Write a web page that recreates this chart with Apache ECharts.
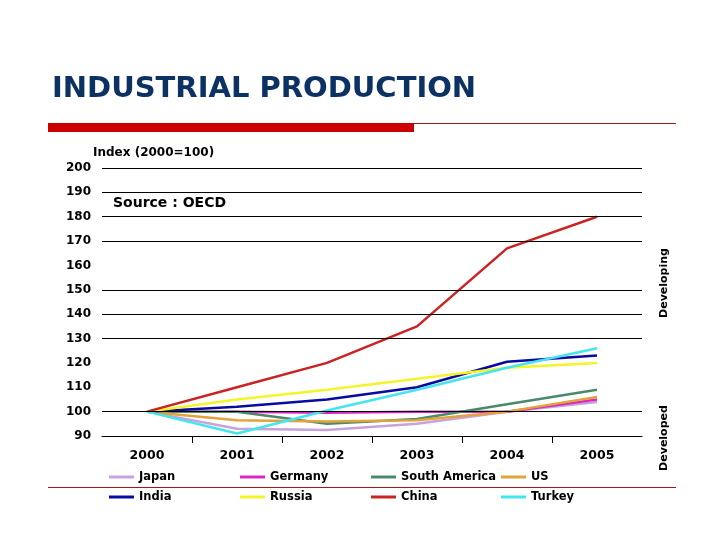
<!DOCTYPE html>
<html>
<head>
<meta charset="utf-8">
<script src="https://cdn.jsdelivr.net/npm/echarts@6/dist/echarts.min.js"></script>
<style>html,body{margin:0;padding:0;background:#fff}#c{width:720px;height:540px}</style>
</head>
<body>
<div id="c"></div>
<script>
var years = ['2000','2001','2002','2003','2004','2005'];
var japan = [100, 93, 92.5, 95, 100, 104];
var germany = [100, 100, 99.5, 100, 100, 105];
var southAmerica = [100, 100, 95, 97, 103, 109];
var us = [100, 96.5, 96, 96.5, 100, 106];
var india = [100, 102, 105, 110, 120.5, 123];
var russia = [100, 105, 109, 113.5, 118, 120];
var china = [100, 110, 120, 135, 167, 180];
var turkey = [100, 91, 100.5, 109, 118, 126];
var gridValues = [100, 130, 140, 150, 170, 180, 190, 200];
var innerTicks = ['', '', '', '', ''];

var names = ['Japan','Germany','South America','US','India','Russia','China','Turkey'];
var values = [japan, germany, southAmerica, us, india, russia, china, turkey];
var colors = ['#c8a2dc','#d926c4','#4a8a6c','#e0a43a','#0a0aa0','#f4f428','#cc2222','#44e4f0'];

var FONT = 'DejaVu Sans';
var series = names.map(function(n, i){
  return {
    name: n, type: 'line', data: values[i], symbol: 'none',
    lineStyle: {width: 2.5, color: colors[i]}, itemStyle: {color: colors[i]},
    z: 3
  };
});
series.unshift({
  name: '_grid', type: 'line', data: [], silent: true, z: 1,
  markLine: {
    silent: true, symbol: 'none', label: {show: false},
    lineStyle: {color: '#000', width: 1, type: 'solid'},
    emphasis: {disabled: true},
    animation: false,
    data: gridValues.map(function(v){ return {yAxis: v}; })
  }
});

var legendLeft = [109, 240, 371, 501];
var legends = names.map(function(n, i){
  return {
    data: [n], left: legendLeft[i % 4], top: (i < 4 ? 471 : 491),
    icon: 'rect', itemWidth: 25, itemHeight: 3, padding: 0,
    selectedMode: false,
    textStyle: {fontFamily: FONT, fontWeight: 'bold', fontSize: 11.5, color: '#000'}
  };
});

var chart = echarts.init(document.getElementById('c'), null, {renderer: 'canvas'});
chart.setOption({
  backgroundColor: '#fff',
  animation: false,
  color: colors,
  grid: [
    {left: 102, right: 78, top: 168, bottom: 104},
    {left: 192, right: 168, top: 168, bottom: 104}
  ],
  legend: legends,
  xAxis: [{
    type: 'category', data: years, boundaryGap: true, gridIndex: 0,
    axisLine: {show: true, lineStyle: {color: '#000', width: 1}},
    axisTick: {show: false},
    axisLabel: {fontFamily: FONT, fontWeight: 'bold', fontSize: 12.5, color: '#000', margin: 13}
  }, {
    type: 'category', data: innerTicks, boundaryGap: false, gridIndex: 1,
    axisLine: {show: false},
    axisTick: {show: true, length: 7, lineStyle: {color: '#000'}},
    axisLabel: {show: false}
  }],
  yAxis: [{
    type: 'value', min: 90, max: 200, interval: 10, gridIndex: 0,
    axisLine: {show: false}, axisTick: {show: false},
    splitLine: {show: false},
    axisLabel: {fontFamily: FONT, fontWeight: 'bold', fontSize: 12, color: '#000', margin: 11}
  }, {
    type: 'value', min: 90, max: 200, gridIndex: 1, show: false
  }],
  series: series,
  graphic: [
    {type: 'text', left: 52, top: 75, style: {text: 'INDUSTRIAL PRODUCTION', font: 'bold 29px "DejaVu Sans"', fill: '#0b3263'}},
    {type: 'rect', shape: {x: 48, y: 123, width: 366, height: 9}, style: {fill: '#cc0000'}},
    {type: 'line', shape: {x1: 414, y1: 123.5, x2: 676, y2: 123.5}, style: {stroke: '#a01818', lineWidth: 1}},
    {type: 'line', shape: {x1: 48, y1: 487.5, x2: 676, y2: 487.5}, style: {stroke: '#a01818', lineWidth: 1}},
    {type: 'text', x: 93, y: 153, style: {text: 'Index (2000=100)', font: 'bold 12px "DejaVu Sans"', fill: '#000', textVerticalAlign: 'middle'}},
    {type: 'text', x: 113, y: 203, style: {text: 'Source : OECD', font: 'bold 14px "DejaVu Sans"', fill: '#000', textVerticalAlign: 'middle'}},
    {type: 'text', x: 664, y: 283, rotation: Math.PI/2, style: {text: 'Developing', font: 'bold 11px "DejaVu Sans"', fill: '#000', textAlign: 'center', textVerticalAlign: 'middle'}},
    {type: 'text', x: 664, y: 438, rotation: Math.PI/2, style: {text: 'Developed', font: 'bold 11px "DejaVu Sans"', fill: '#000', textAlign: 'center', textVerticalAlign: 'middle'}}
  ]
});
</script>
</body>
</html>
